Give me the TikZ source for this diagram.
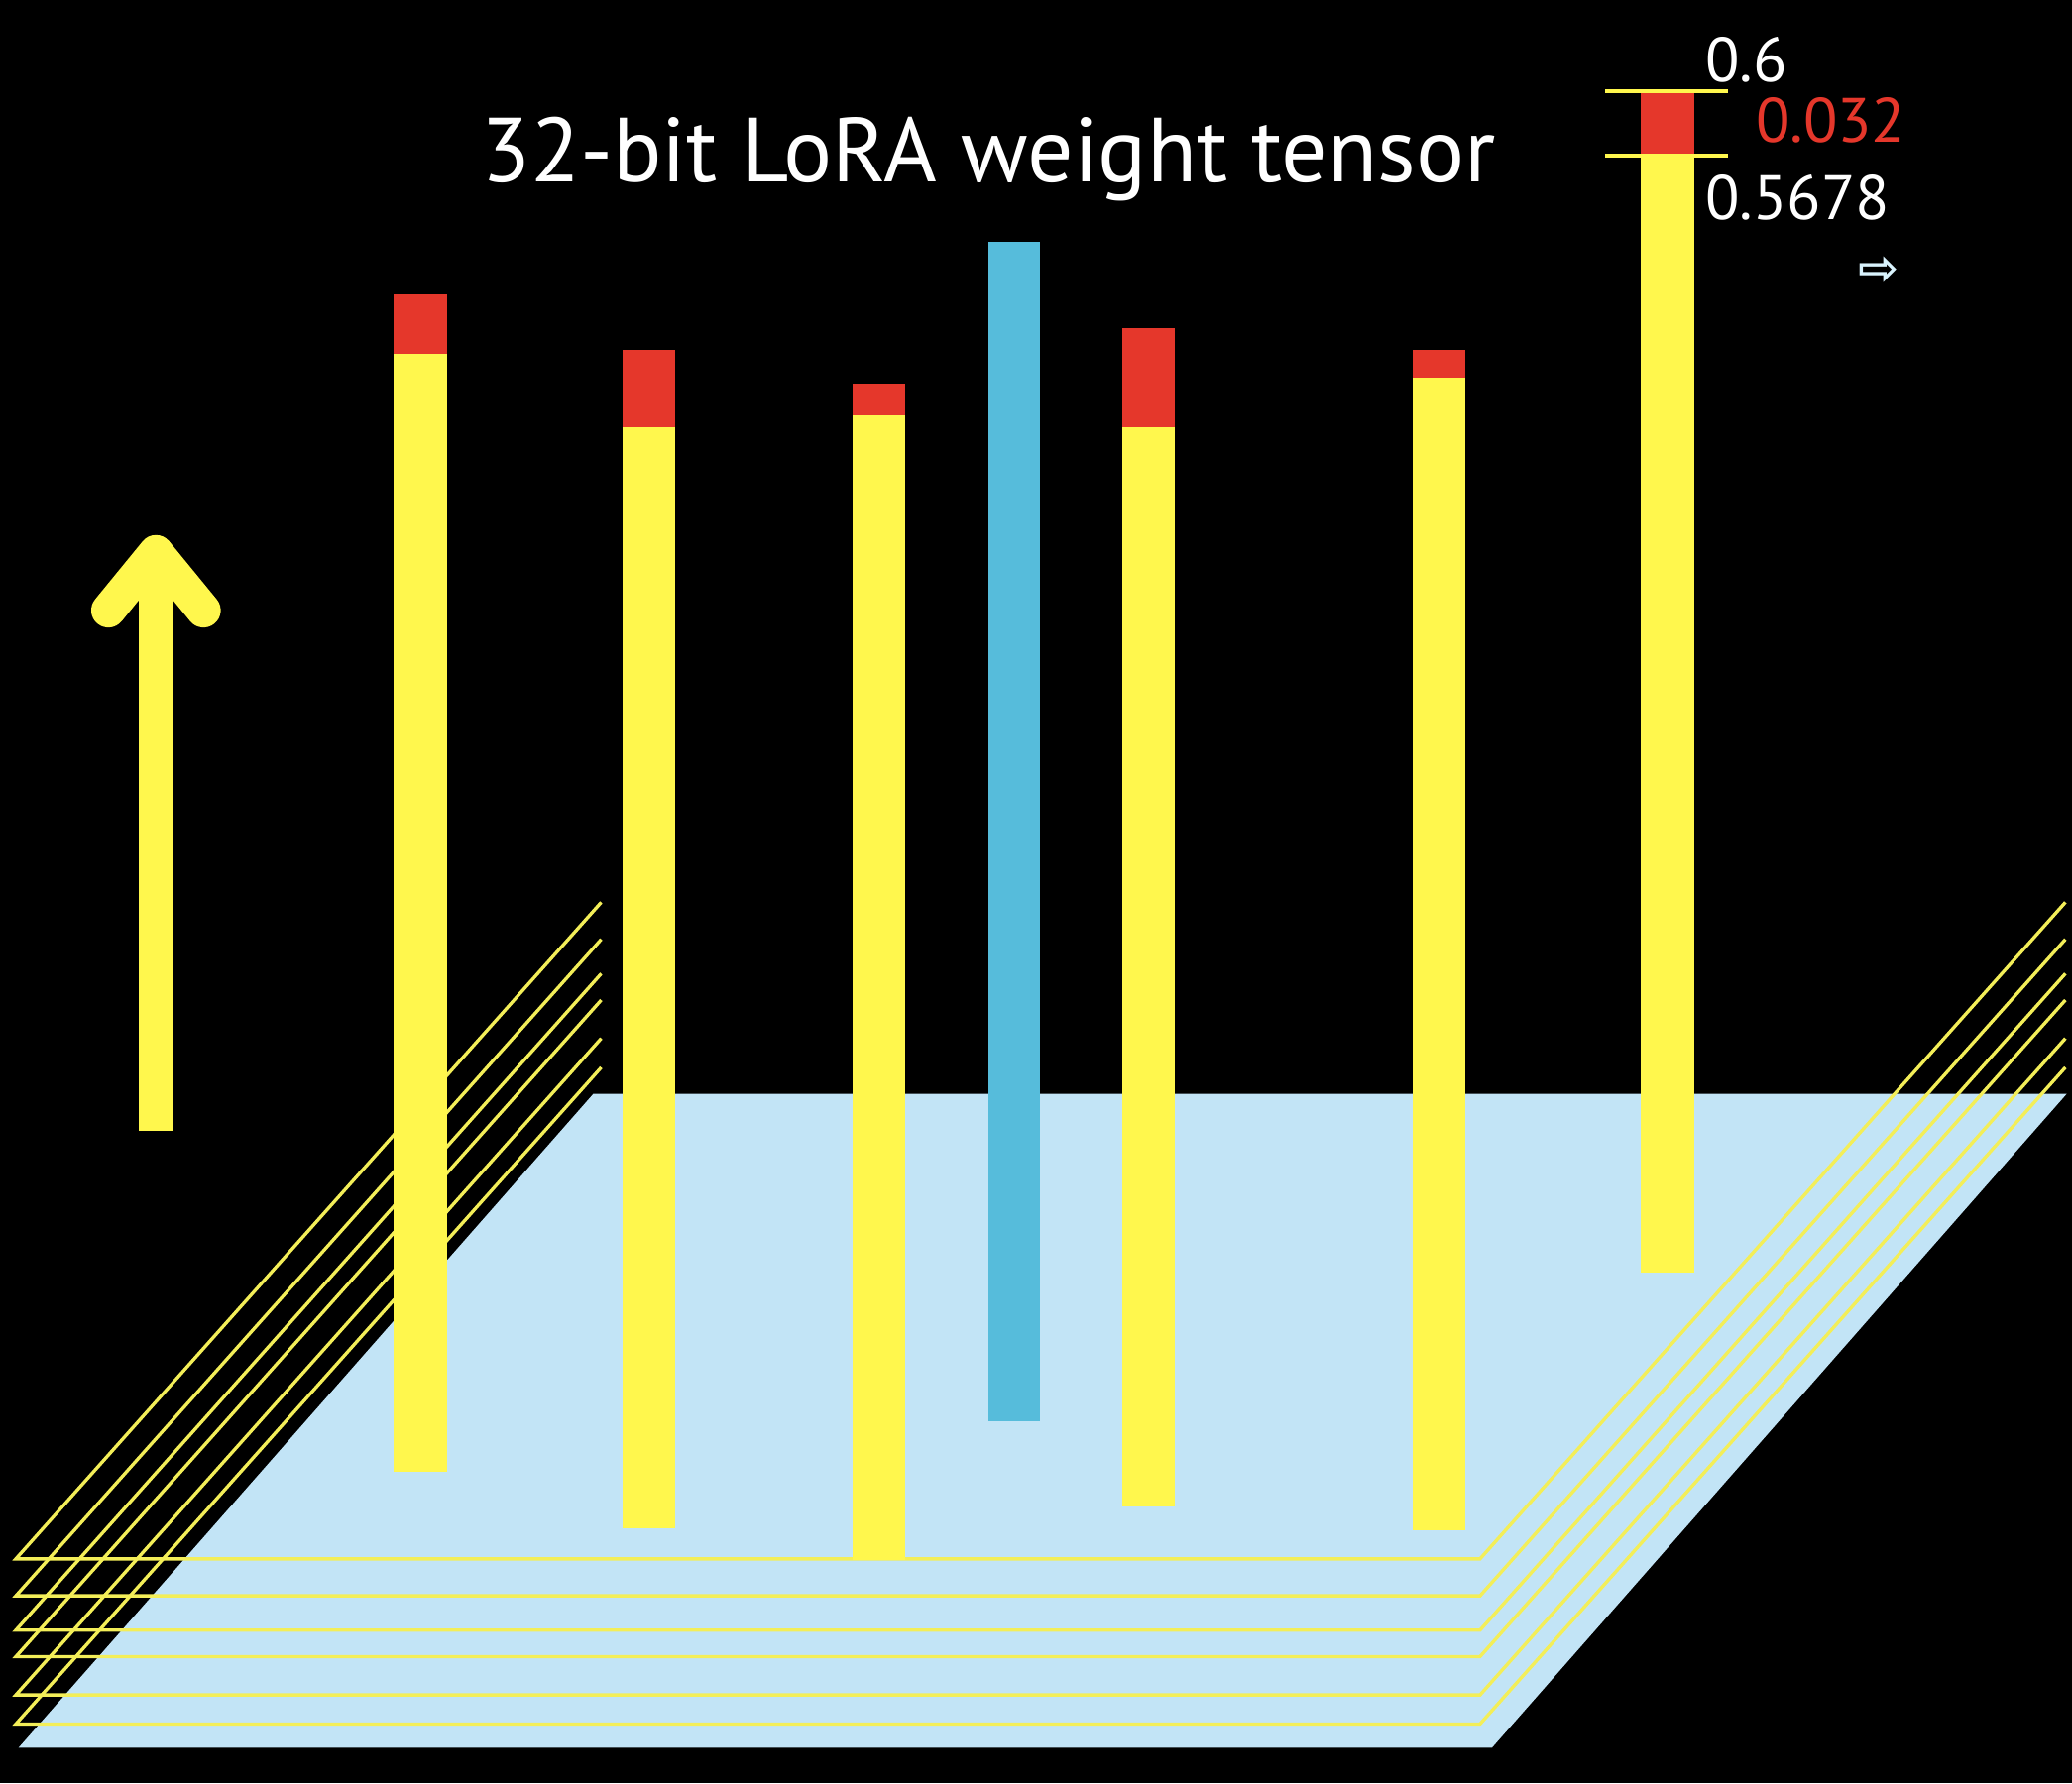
\documentclass[tikz,border=0pt]{standalone}
\usepackage{fontspec}
\setmainfont{PT Sans}
\newfontfamily\symbolfont{DejaVu Sans}
\usepackage{tikz}

\definecolor{barYellow}{RGB}{255,247,77}
\definecolor{lineYellow}{RGB}{243,238,88}
\definecolor{capRed}{RGB}{229,55,43}
\definecolor{midBlue}{RGB}{86,188,219}
\definecolor{planeBlue}{RGB}{194,228,246}

\begin{document}
\begin{tikzpicture}[
        x=0.1mm, y=-0.1mm,
        every node/.style={inner sep=0pt, text=white},
        plane/.style={fill=planeBlue},
        layer/.style={draw=lineYellow, line width=0.25mm, line join=miter},
        bar/.style={fill=barYellow},
        redtop/.style={fill=capRed},
        centrebar/.style={fill=midBlue},
        tick/.style={draw=barYellow, line width=0.3mm},
        bigarrow/.style={draw=barYellow, line width=2.6mm},
        value/.style={anchor=base west, font=\fontsize{13.5}{15}\selectfont}
    ]
    % background and base plane
    \fill[black] (0,0) rectangle (1568,1350);
    \fill[plane] (449,828) -- (1564,828) -- (1129,1323) -- (14,1323) -- cycle;

    % stacked layers
    \draw[layer] (455,683) -- (12,1180) -- (1120,1180) -- (1563,683);
    \draw[layer] (455,711) -- (12,1208) -- (1120,1208) -- (1563,711);
    \draw[layer] (455,737) -- (12,1234) -- (1120,1234) -- (1563,737);
    \draw[layer] (455,757) -- (12,1254) -- (1120,1254) -- (1563,757);
    \draw[layer] (455,786) -- (12,1283) -- (1120,1283) -- (1563,786);
    \draw[layer] (455,808) -- (12,1305) -- (1120,1305) -- (1563,808);

    % weight bars
    \fill[bar] (298,268) rectangle (338,1114);
    \fill[redtop] (298,223) rectangle (338,268);
    \fill[bar] (471,323) rectangle (511,1157);
    \fill[redtop] (471,265) rectangle (511,323);
    \fill[bar] (645,314) rectangle (685,1181);
    \fill[redtop] (645,290) rectangle (685,314);
    \fill[centrebar] (748,183) rectangle (787,1076);
    \fill[bar] (849,323) rectangle (889,1140);
    \fill[redtop] (849,248) rectangle (889,323);
    \fill[bar] (1069,286) rectangle (1109,1158);
    \fill[redtop] (1069,265) rectangle (1109,286);
    \fill[bar] (1242,118) rectangle (1282,963);
    \fill[redtop] (1242,69) rectangle (1282,118);

    % up arrow
    \draw[bigarrow] (118,856) -- (118,430);
    \draw[bigarrow, line cap=round, line join=round] (82,462) -- (118,418) -- (154,462);

    % labels
    \node[anchor=base, font=\fontsize{19.6}{23}\selectfont] (title) at (748,138) {32-bit LoRA weight tensor};
    \draw[tick] (1215,69) -- (1308,69);
    \draw[tick] (1215,118) -- (1308,118);
    \node[value] (upper) at (1290,62) {0.6};
    \node[value, text=capRed] (delta) at (1328,108) {0.032};
    \node[value] (lower) at (1290,166) {0.5678};
    \node[font=\symbolfont\bfseries\fontsize{10.5}{10.5}\selectfont, text=white!85!cyan] (pointer) at (1422,205) {⇨};
\end{tikzpicture}
\end{document}
